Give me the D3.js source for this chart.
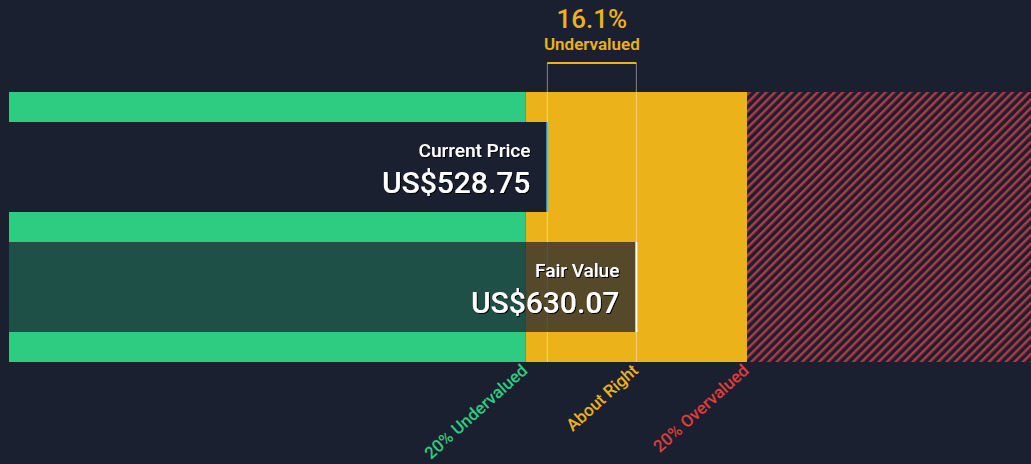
<!DOCTYPE html>
<html><head><meta charset="utf-8">
<script src="https://cdn.jsdelivr.net/npm/d3@7"></script>
<style>body{margin:0;background:#1b2030;font-family:Roboto,sans-serif}</style>
</head><body>
<svg id="chart" width="1031" height="464"></svg>
<script>
var currentPrice = 528.75;
var fairValue = 630.07;
var zoneNames = ["20% Undervalued", "About Right", "20% Overvalued"];
var zoneColors = ["#2ecc80", "#ecb21a", "#e03c3c"];
var zoneEdges = [0.8, 1.2];

(function() {
var svg = d3.select("#chart");
var left = 9, right = 1031, barTop = 92, barBottom = 362;

var x = d3.scaleLinear().domain([0, fairValue * 1.2]).range([83, 747]);

var defs = svg.append("defs");
var pat = defs.append("pattern").attr("id", "hatch").attr("width", 6).attr("height", 6)
    .attr("patternUnits", "userSpaceOnUse").attr("patternTransform", "rotate(45)");
pat.append("rect").attr("width", 6).attr("height", 6).attr("fill", "#1b2030");
pat.append("rect").attr("width", 2.5).attr("height", 6).attr("fill", "#b13a45");
var sh = defs.append("filter").attr("id", "sh");
sh.append("feDropShadow").attr("dx", 1).attr("dy", 1).attr("stdDeviation", 0.6).attr("flood-color", "#000");

/**** Zones ****/
var b1 = x(fairValue * zoneEdges[0]), b2 = x(fairValue * zoneEdges[1]);
svg.append("rect").attr("x", left).attr("y", barTop).attr("width", b1 - left).attr("height", barBottom - barTop).attr("fill", zoneColors[0]);
svg.append("rect").attr("x", b1).attr("y", barTop).attr("width", b2 - b1).attr("height", barBottom - barTop).attr("fill", zoneColors[1]);
svg.append("rect").attr("x", b2).attr("y", barTop).attr("width", right - b2).attr("height", barBottom - barTop).attr("fill", "url(#hatch)");

/**** Bracket ****/
var xc = x(currentPrice), xf = x(fairValue);
svg.append("path").attr("d", "M" + xc + "," + barBottom + "V63H" + xf + "V" + barBottom)
    .attr("fill", "none").attr("stroke", "rgba(255,255,255,0.45)").attr("stroke-width", 1);
svg.append("line").attr("x1", xc).attr("x2", xf).attr("y1", 63).attr("y2", 63).attr("stroke", "#ecb21a").attr("stroke-width", 2);
var pct = (fairValue - currentPrice) / fairValue * 100;
svg.append("text").attr("x", (xc + xf) / 2).attr("y", 28).attr("text-anchor", "middle")
    .attr("fill", "#ecb21a").attr("font-size", 26).attr("font-weight", 500).text(pct.toFixed(1) + "%");
svg.append("text").attr("x", (xc + xf) / 2).attr("y", 50).attr("text-anchor", "middle")
    .attr("fill", "#ecb21a").attr("font-size", 17).attr("font-weight", 600).text("Undervalued");

/**** Bars ****/
svg.append("rect").attr("x", left).attr("y", 122).attr("width", xc - left).attr("height", 90).attr("fill", "#1b2030");
svg.append("line").attr("x1", xc).attr("x2", xc).attr("y1", 122).attr("y2", 212).attr("stroke", "#5bc0e8").attr("stroke-width", 2);
svg.append("rect").attr("x", left).attr("y", 242).attr("width", xf - left).attr("height", 90).attr("fill", "rgba(27,32,48,0.72)");
svg.append("line").attr("x1", xf).attr("x2", xf).attr("y1", 242).attr("y2", 332).attr("stroke", "#fff").attr("stroke-width", 2);

[[xc, 122, "Current Price", currentPrice], [xf, 242, "Fair Value", fairValue]].forEach(function(d) {
    svg.append("text").attr("x", d[0] - 17).attr("y", d[1] + 35).attr("text-anchor", "end")
        .attr("fill", "#fff").attr("font-size", 19).attr("font-weight", 500).attr("filter", "url(#sh)").text(d[2]);
    svg.append("text").attr("x", d[0] - 17).attr("y", d[1] + 71).attr("text-anchor", "end")
        .attr("fill", "#fff").attr("font-size", 30).attr("font-weight", 500).attr("filter", "url(#sh)").text("US$" + d[3].toFixed(2));
});

/**** Zone labels ****/
[b1, xf, b2].forEach(function(bx, i) {
    svg.append("text").attr("transform", "translate(" + (bx + 3) + "," + (barBottom + 10) + ") rotate(-42)")
        .attr("text-anchor", "end").attr("fill", zoneColors[i]).attr("font-size", 17).attr("font-weight", 500)
        .text(zoneNames[i]);
});
})();
</script>
</body></html>
